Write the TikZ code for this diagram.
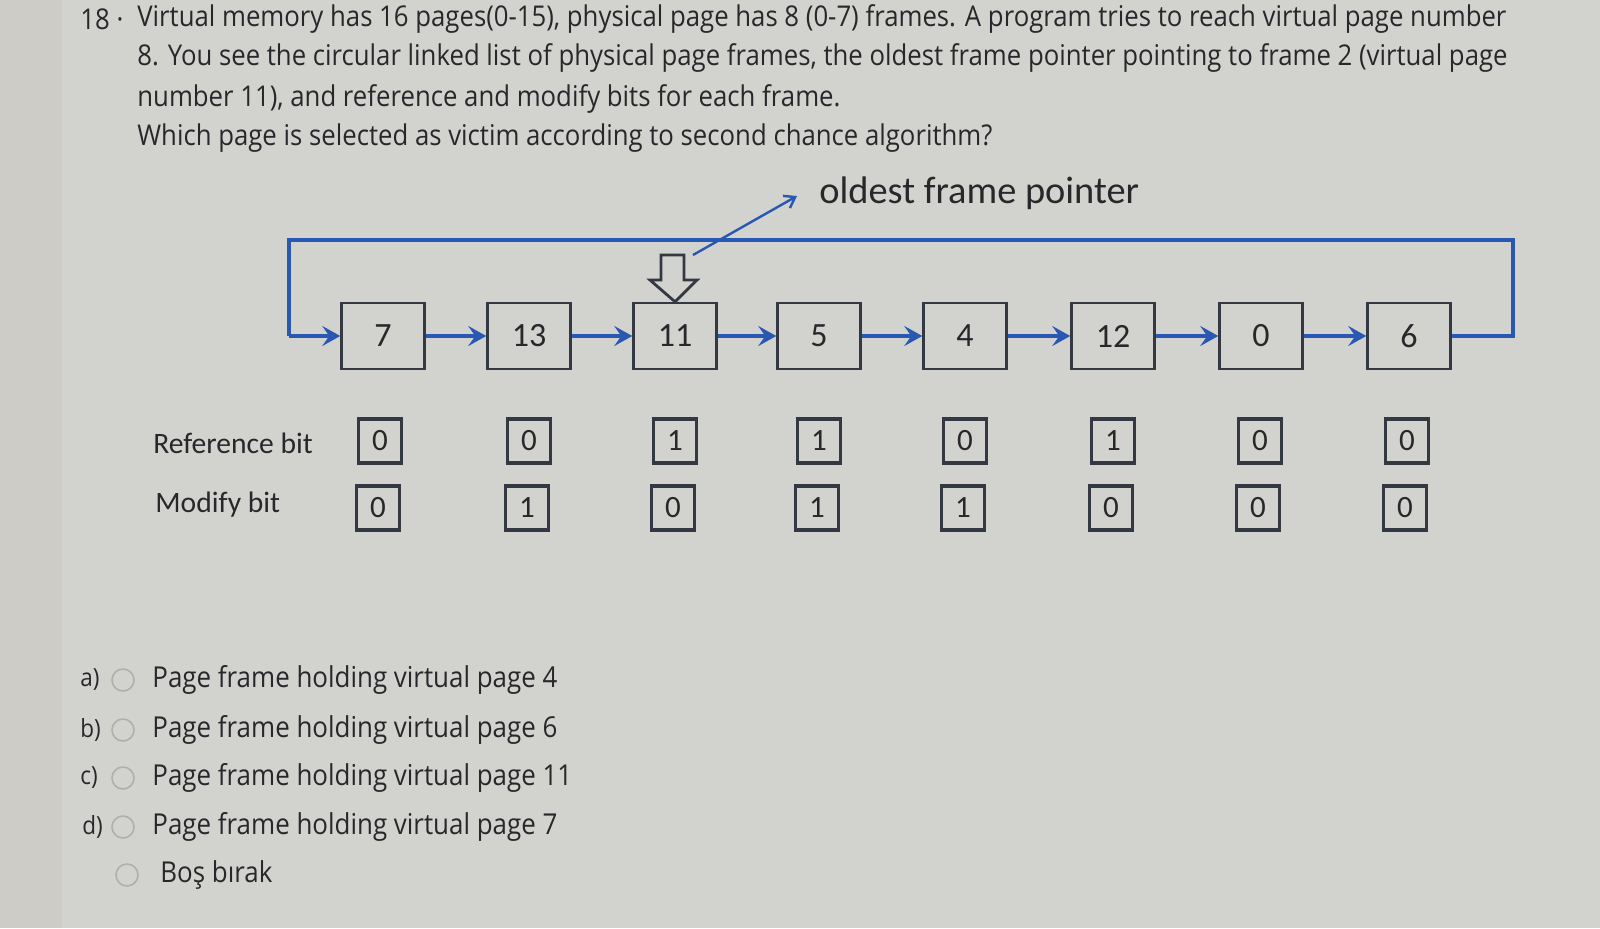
\documentclass[tikz,border=0pt]{standalone}
\usepackage{fontspec}
\setmainfont[FakeStretch=0.9]{Open Sans}
\newfontfamily\calib{Carlito}
\usetikzlibrary{arrows.meta}
\definecolor{bgc}{RGB}{210,210,206}
\definecolor{stripc}{RGB}{205,204,199}
\definecolor{lnblue}{RGB}{40,88,178}
\definecolor{boxc}{RGB}{52,56,66}
\definecolor{txt}{RGB}{40,40,44}
\definecolor{radio}{RGB}{175,175,175}
\tikzset{
  frame/.style={draw=boxc, line width=2.5pt/2, minimum width=83*0.5pt, minimum height=66*0.5pt, inner sep=0pt, font=\calib\fontsize{17}{19}\selectfont, text=txt},
  bitbox/.style={draw=boxc, line width=3.2pt/2, minimum width=43*0.5pt, minimum height=44*0.5pt, inner sep=0pt, font=\calib\fontsize{15.5}{17}\selectfont, text=txt},
  link/.style={draw=lnblue, line width=2.2pt, -{Stealth[length=9pt,width=10pt,inset=3.5pt]}},
  loopline/.style={draw=lnblue, line width=2.2pt},
  qtext/.style={anchor=west, inner sep=0pt, font=\fontsize{14.3}{17}\selectfont, text=txt},
  atext/.style={anchor=west, inner sep=0pt, font=\fontsize{14.4}{17}\selectfont, text=txt},
  lbl/.style={anchor=west, inner sep=0pt, font=\calib\fontsize{14.8}{17}\selectfont, text=txt},
  rbtn/.style={circle, draw=radio, line width=0.8pt, minimum size=11pt, inner sep=0pt}
}
\begin{document}
\begin{tikzpicture}[x=0.5pt,y=-0.5pt]
\fill[bgc] (0,0) rectangle (1600,928);
\fill[stripc] (0,0) rectangle (62,928);
\useasboundingbox (0,0) rectangle (1600,928);
% question text
\node[qtext] (qn) at (80,19) {18 ·};
\node[qtext] (q1) at (137,19) {Virtual memory has 16 pages(0-15), physical page has 8 (0-7) frames. A program tries to reach virtual page number};
\node[qtext] (q2) at (137,58) {8. You see the circular linked list of physical page frames, the oldest frame pointer pointing to frame 2 (virtual page};
\node[qtext] (q3) at (137,99) {number 11), and reference and modify bits for each frame.};
\node[qtext] (q4) at (137,138) {Which page is selected as victim according to second chance algorithm?};
% frames
\foreach \v/\x [count=\i] in {7/383,13/529,11/675,5/819,4/965,12/1113,0/1261,6/1409}{
  \node[frame] (f\i) at (\x,336) {\v};
}
\foreach \i/\j in {1/2,2/3,3/4,4/5,5/6,6/7,7/8}{
  \draw[link] (f\i.east) -- (f\j.west);
}
% loop
\coordinate (lA) at (1513,336);
\coordinate (lB) at (1513,240);
\coordinate (lC) at (289,240);
\coordinate (lD) at (289,336);
\draw[loopline] (f8.east) -- (lA) -- (lB) -- (lC) -- (lD);
\draw[link] (lD) -- (f1.west);
% hollow down arrow
\draw[boxc, line width=1.4pt, line join=miter]
  (661,255) -- (684,255) -- (684,280) -- (697,280) -- (f3.north) -- (650,280) -- (661,280) -- cycle;
% pointer
\coordinate (pS) at (693,255);
\node[anchor=west, inner sep=0pt, font=\calib\fontsize{19.2}{22}\selectfont, text=txt] (ofp) at (819,193) {oldest frame pointer};
\coordinate (pE) at (797,196);
\draw[draw=lnblue, line width=1.2pt, -{Straight Barb[length=5pt,width=7pt]}] (pS) -- (pE);
% bit labels
\node[lbl] (rl) at (153,443) {Reference bit};
\node[lbl] (ml) at (155,505) {Modify bit};
\foreach \r/\m/\x [count=\i] in {0/0/380,0/1/529,1/0/675,1/1/819,0/1/965,1/0/1113,0/0/1260,0/0/1407}{
  \node[bitbox] (r\i) at (\x,441) {\r};
  \node[bitbox] (m\i) at (\x-2,508) {\m};
}
% answers
\foreach \l/\t/\y/\lx [count=\i] in {a)/Page frame holding virtual page 4/680/80, b)/Page frame holding virtual page 6/730/80, c)/Page frame holding virtual page 11/778/80, d)/Page frame holding virtual page 7/827/82}{
  \node[atext, font=\fontsize{12.5}{15}\selectfont] (al\i) at (\lx,\y) {\l};
  \node[rbtn] (ar\i) at (123,\y) {};
  \node[atext] (at\i) at (152,\y) {\t};
}
\node[rbtn] (ar5) at (127,875) {};
\node[atext] (at5) at (160,875) {Boş bırak};
\end{tikzpicture}
\end{document}
